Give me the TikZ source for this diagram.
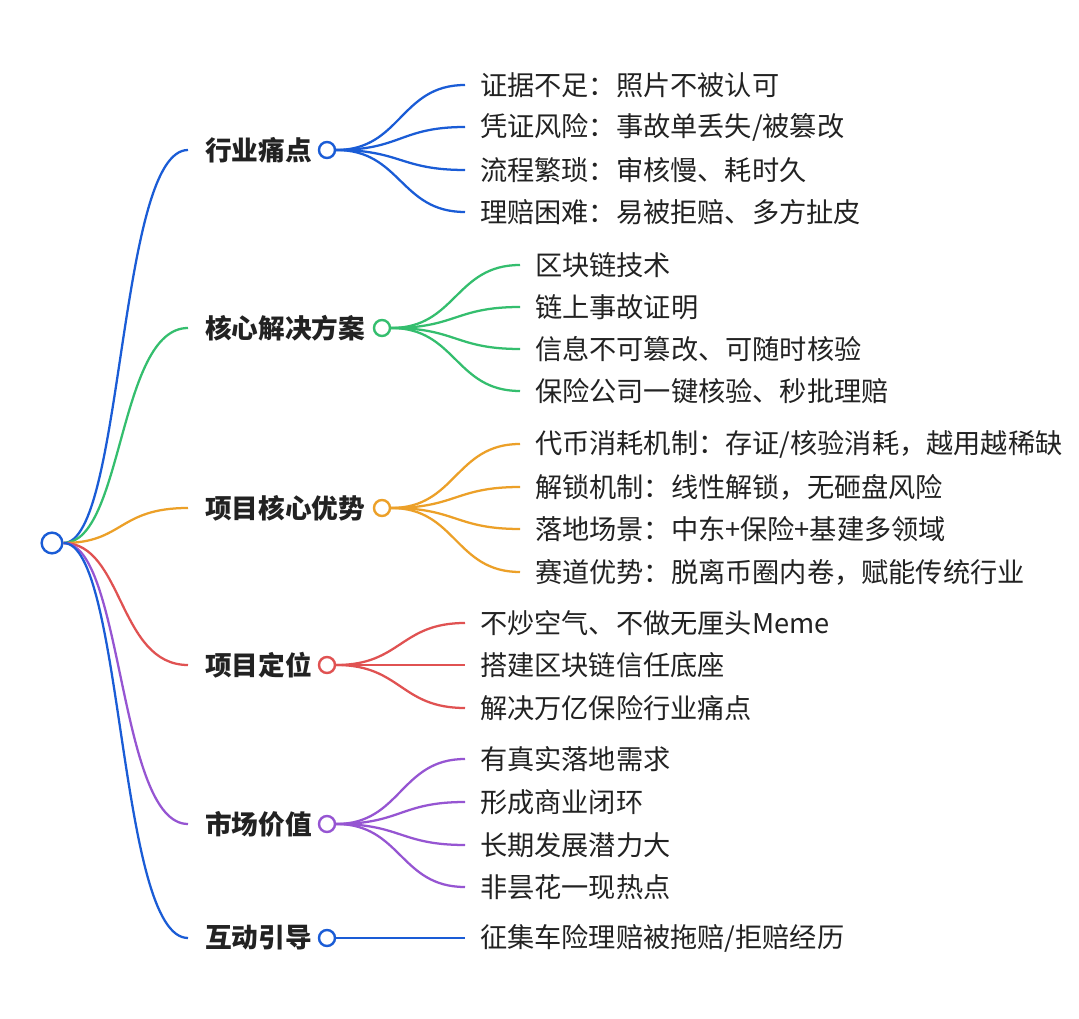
\documentclass[tikz,border=0pt]{standalone}
\usepackage{fontspec}
\setmainfont{Noto Sans CJK SC}
\usepackage{tikz}
\definecolor{cblue}{RGB}{26,92,214}
\definecolor{cgreen}{RGB}{52,190,110}
\definecolor{corange}{RGB}{236,160,40}
\definecolor{cred}{RGB}{224,82,82}
\definecolor{cpurple}{RGB}{150,85,210}
\definecolor{ink}{RGB}{34,34,34}

\begin{document}
\begin{tikzpicture}[x=0.75pt, y=-0.75pt,
  font=\fontsize{20.4pt}{24pt}\selectfont, text=ink,
  link/.style={#1, line width=1.7pt},
  hub/.style={circle, draw=#1, fill=white, line width=1.8pt, minimum size=12pt, inner sep=0pt},
  cat/.style={anchor=west, font=\fontsize{20pt}{24pt}\selectfont\bfseries, inner sep=0pt, outer xsep=12.75pt},
  leaf/.style={anchor=west, inner sep=0pt, outer xsep=11.25pt}]
  \fill[white] (0,0) rectangle (1079,1019);
  \useasboundingbox (0,0) rectangle (1079,1019);

  \node[hub=cblue, minimum size=15.5pt] (root) at (52,543) {};

  % 行业痛点
  \node[hub=cblue] (h1) at (327,150) {};
  \node[cat] (c1) at (188,150) {行业痛点};
  \draw[link=cblue] (root.east) .. controls +(60,0) and +(-70,0) .. (c1.west);
  \foreach \y/\t [count=\i] in {85/证据不足：照片不被认可, 127/{凭证风险：事故单丢失/被篡改},
      170/流程繁琐：审核慢、耗时久, 212/理赔困难：易被拒赔、多方扯皮} {
    \node[leaf] (l1\i) at (465,\y) {\t};
    \draw[link=cblue] (h1.east) .. controls +(65,0) and +(-65,0) .. (l1\i.west);
  }

  % 核心解决方案
  \node[hub=cgreen] (h2) at (382,328) {};
  \node[cat] (c2) at (188,328) {核心解决方案};
  \draw[link=cgreen] (root.east) .. controls +(60,0) and +(-70,0) .. (c2.west);
  \foreach \y/\t [count=\i] in {265/区块链技术, 307/链上事故证明,
      349/信息不可篡改、可随时核验, 391/保险公司一键核验、秒批理赔} {
    \node[leaf] (l2\i) at (520,\y) {\t};
    \draw[link=cgreen] (h2.east) .. controls +(65,0) and +(-65,0) .. (l2\i.west);
  }

  % 项目核心优势
  \node[hub=corange] (h3) at (382,508) {};
  \node[cat] (c3) at (188,508) {项目核心优势};
  \draw[link=corange] (root.east) .. controls +(60,0) and +(-70,0) .. (c3.west);
  \foreach \y/\t [count=\i] in {444/{代币消耗机制：存证/核验消耗，越用越稀缺}, 487/解锁机制：线性解锁，无砸盘风险,
      529/落地场景：中东+保险+基建多领域, 572/赛道优势：脱离币圈内卷，赋能传统行业} {
    \node[leaf] (l3\i) at (520,\y) {\t};
    \draw[link=corange] (h3.east) .. controls +(65,0) and +(-65,0) .. (l3\i.west);
  }

  % 项目定位
  \node[hub=cred] (h4) at (327,665) {};
  \node[cat] (c4) at (188,665) {项目定位};
  \draw[link=cred] (root.east) .. controls +(60,0) and +(-70,0) .. (c4.west);
  \foreach \y/\t [count=\i] in {623/不炒空气、不做无厘头Meme, 665/搭建区块链信任底座,
      708/解决万亿保险行业痛点} {
    \node[leaf] (l4\i) at (465,\y) {\t};
    \draw[link=cred] (h4.east) .. controls +(65,0) and +(-65,0) .. (l4\i.west);
  }

  % 市场价值
  \node[hub=cpurple] (h5) at (327,824) {};
  \node[cat] (c5) at (188,824) {市场价值};
  \draw[link=cpurple] (root.east) .. controls +(60,0) and +(-70,0) .. (c5.west);
  \foreach \y/\t [count=\i] in {759/有真实落地需求, 802/形成商业闭环,
      845/长期发展潜力大, 887/非昙花一现热点} {
    \node[leaf] (l5\i) at (465,\y) {\t};
    \draw[link=cpurple] (h5.east) .. controls +(65,0) and +(-65,0) .. (l5\i.west);
  }

  % 互动引导
  \node[hub=cblue] (h6) at (327,938) {};
  \node[cat] (c6) at (188,938) {互动引导};
  \draw[link=cblue] (root.east) .. controls +(60,0) and +(-70,0) .. (c6.west);
  \node[leaf] (l61) at (465,938) {征集车险理赔被拖赔/拒赔经历};
  \draw[link=cblue] (h6.east) -- (l61.west);
\end{tikzpicture}
\end{document}
